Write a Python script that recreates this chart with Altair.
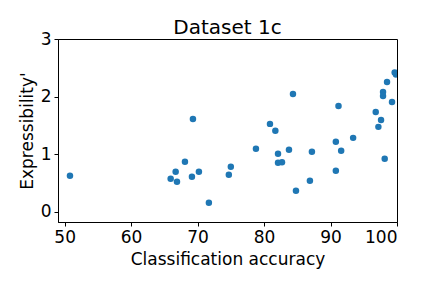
import altair as alt
import pandas as pd

accuracy = [50.8, 65.95, 66.7, 66.9, 68.1, 69.3, 69.15, 70.2, 71.7, 74.7, 75.0,
            78.78, 80.89, 81.7, 84.35, 82.1, 82.1, 82.7, 83.75, 84.8, 87.2, 86.9,
            90.8, 90.8, 91.2, 91.6, 93.4, 96.8, 97.6, 97.2, 98.15, 97.9, 97.9,
            98.5, 99.25, 99.65, 99.85]
express = [0.624, 0.572, 0.693, 0.52, 0.867, 1.61, 0.607, 0.693, 0.156, 0.641, 0.78,
           1.092, 1.525, 1.404, 2.045, 1.005, 0.849, 0.86, 1.074, 0.364, 1.04, 0.537,
           1.213, 0.711, 1.837, 1.057, 1.282, 1.733, 1.594, 1.473, 0.918, 2.08, 2.01,
           2.253, 1.906, 2.42, 2.385]

df = pd.DataFrame({"acc": accuracy, "exp": express})

font = "DejaVu Sans"

chart = alt.Chart(df).mark_circle(size=42, opacity=1, color="#1f77b4", clip=True).encode(
    x=alt.X("acc:Q", scale=alt.Scale(domain=[49, 100], nice=False, zero=False),
            axis=alt.Axis(title="Classification accuracy", values=[50, 60, 70, 80, 90, 100],
                          grid=False, tickSize=4, labelFontSize=17, titleFontSize=17,
                          labelFont=font, titleFont=font, titleFontWeight="normal",
                          labelColor="black", titleColor="black", domainColor="black",
                          tickColor="black", labelPadding=3, titlePadding=6)),
    y=alt.Y("exp:Q", scale=alt.Scale(domain=[-0.18, 3], nice=False, zero=False),
            axis=alt.Axis(title="Expressibility'", values=[0, 1, 2, 3], format="d",
                          grid=False, tickSize=4, labelFontSize=17, titleFontSize=17,
                          labelFont=font, titleFont=font, titleFontWeight="normal",
                          labelColor="black", titleColor="black", domainColor="black",
                          tickColor="black", labelPadding=3, titlePadding=4)),
).properties(
    width=339, height=183,
    title=alt.Title("Dataset 1c", fontSize=20, font=font, fontWeight="normal", color="black",
                    offset=6, dy=14),
    autosize=alt.AutoSizeParams(type="none"),
    padding={"left": 50, "top": 31, "right": 20, "bottom": 50},
).configure_view(stroke="black", strokeWidth=1)

chart.save("out.html", embed_options={"renderer": "svg", "actions": False})
